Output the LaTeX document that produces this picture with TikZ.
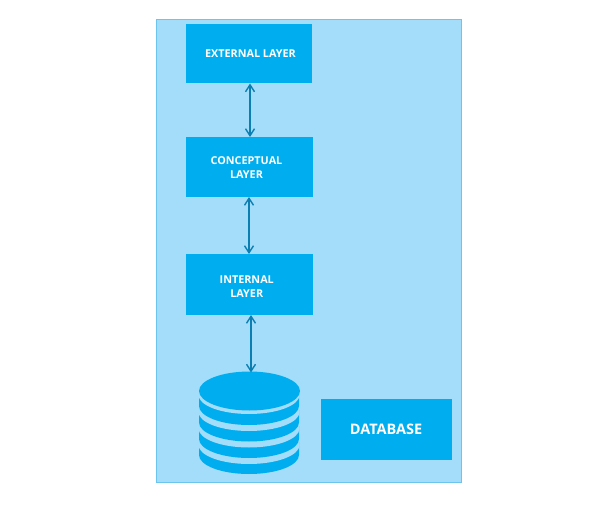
\documentclass[tikz,border=0pt]{standalone}
\usepackage{fontspec}
\setmainfont{Open Sans}
\usetikzlibrary{arrows.meta,calc}
\definecolor{panelblue}{HTML}{A3DDFA}
\definecolor{panelline}{HTML}{6CC5EE}
\definecolor{boxblue}{HTML}{00AEEF}
\definecolor{arrowblue}{HTML}{0B7FB2}
\tikzset{
  layerbox/.style={anchor=north west,fill=boxblue,inner sep=0pt,outer sep=0pt,text=white,align=center,font=\bfseries\fontsize{10.8pt}{14pt}\selectfont},
  linkline/.style={draw=arrowblue,line width=1.5pt,{Straight Barb[length=7pt,width=9pt,line width=1.4pt]}-{Straight Barb[length=7pt,width=9pt,line width=1.4pt]}},
  disc/.style={fill=boxblue,draw=none},
  gap/.style={fill=panelblue,draw=none}
}
\begin{document}
\begin{tikzpicture}[x=1pt,y=-1pt]
\useasboundingbox (0,0) rectangle (596,518);
\fill[panelblue] (156,19) rectangle (461,482);
\draw[panelline,line width=0.8pt] (156,19) -- (461,19);
\draw[panelline,line width=0.5pt] (461,19) -- (461,482) -- (156,482) -- (156,19);

\node[layerbox,minimum width=126pt,minimum height=59.5pt] (ext) at (186,24) {\hspace*{3pt}EXTERNAL LAYER};
\node[layerbox,minimum width=127pt,minimum height=60pt] (con) at (186,137) {\raisebox{-1pt}[\height][\depth]{\hspace*{-6pt}CONCEPTUAL}\\\raisebox{-1pt}[\height][\depth]{\hspace*{-6pt}LAYER}};
\node[layerbox,minimum width=126.5pt,minimum height=61pt] (int) at (186,254) {\raisebox{-2pt}[\height][\depth]{\hspace*{-5pt}INTERNAL}\\\raisebox{-2pt}[\height][\depth]{\hspace*{-5pt}LAYER}};
\node[layerbox,minimum width=131pt,minimum height=61pt,font=\bfseries\fontsize{14.5pt}{17pt}\selectfont] (db) at (320.5,399) {DATABASE};

% database cylinder, drawn from the bottom disc upward
\foreach \yb/\yg in {474/445, 458/428.5, 441.5/412, 425/395}{
  \fill[disc] (199,\yb-19) arc[start angle=180,end angle=0,x radius=50,y radius=19] -- (299,\yb-32) -- (199,\yb-32) -- cycle;
  \fill[gap] (249,\yg) ellipse[x radius=50.5,y radius=19];
}
\fill[disc] (249.5,391) ellipse[x radius=50.5,y radius=19.5];
\coordinate (cyl) at (251,372.5);

\draw[linkline] ($(ext.south west)+(64,0)$) -- ($(con.north west)+(64,0)$);
\draw[linkline] ($(con.south west)+(63,0)$) -- ($(int.north west)+(63,0)$);
\draw[linkline] ($(int.south west)+(65,0)$) -- (cyl);
\end{tikzpicture}
\end{document}
